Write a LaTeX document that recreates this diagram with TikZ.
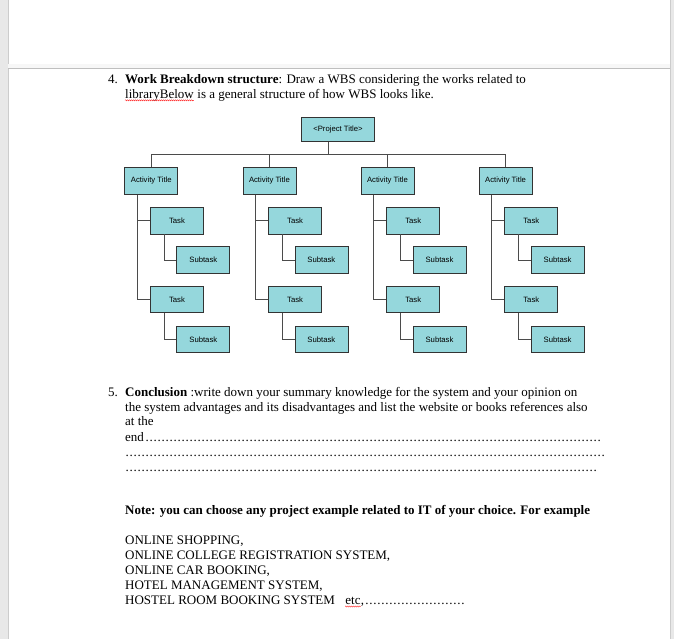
\documentclass[tikz,border=0pt]{standalone}
\usepackage{fontspec}
\setmainfont{Liberation Serif}
\newfontfamily\boxfont{Liberation Sans}
\usetikzlibrary{positioning,calc,decorations.pathmorphing}
\definecolor{wbsfill}{RGB}{149,215,220}
\definecolor{wbsline}{RGB}{75,75,75}
\definecolor{pagegray}{RGB}{232,232,232}
\tikzset{
  wbsbox/.style  = {draw=black!80, fill=wbsfill, line width=0.7pt,
                    minimum width=53pt, minimum height=26.5pt, inner sep=1pt,
                    font=\boxfont\fontsize{7.7}{9}\selectfont},
  projbox/.style = {wbsbox, minimum width=73pt, minimum height=24.5pt},
  link/.style    = {draw=wbsline, line width=0.7pt},
  txt/.style     = {anchor=base west, inner sep=0pt, font=\fontsize{13}{15}\selectfont},
  spell/.style   = {draw=red!85, line width=0.45pt, decorate,
                    decoration={snake, segment length=2pt, amplitude=0.55pt}}
}
\newcommand{\dotrun}[1]{\leaders\hbox to 4pt{\hss.\hss}\hskip #1\hbox{}}

\begin{document}
\begin{tikzpicture}[x=1pt, y=-1pt]
% ---- page ----
\useasboundingbox (0,0) rectangle (674,639);
\fill[white] (0,0) rectangle (674,639);
\fill[pagegray] (0,0) rectangle (8,639);
\fill[pagegray] (670,0) rectangle (674,639);
\draw[black!20] (8,0) -- (8,639);
\draw[black!20] (670,0) -- (670,639);
\fill[black!3] (8,64) rectangle (670,68);
\draw[black!25, line width=0.8pt] (8,68.3) -- (670,68.3);

% ---- question 4 ----
\node[txt] (q4num) at (108,83.3) {4.};
\node[txt] (q4a) at (125,83.3) {\textbf{Work Breakdown structure}: Draw a WBS considering the works related to};
\node[txt] (lib) at (125,98.3) {libraryBelow};
\node[txt] (q4b) at (lib.base east) {\ is a general structure of how WBS looks like.};
\draw[spell] ([yshift=-2pt]lib.base west) -- ([yshift=-2pt]lib.base east);

% ---- WBS tree ----
\node[projbox] (proj) at (338,129.5) {<Project Title>};
\coordinate (bus) at (0,154);
\foreach \c [count=\i] in {151.3,269.4,387.5,505.6} {
  \node[wbsbox] (act\i)   at (\c,181)         {Activity Title};
  \node[wbsbox] (taskA\i) at (\c+25.7,220.7)  {Task};
  \node[wbsbox] (subA\i)  at (\c+52,260)      {Subtask};
  \node[wbsbox] (taskB\i) at (\c+25.7,299.3)  {Task};
  \node[wbsbox] (subB\i)  at (\c+52,339.3)    {Subtask};
  \draw[link] (act\i.north) -- (act\i.north |- bus);
  \draw[link] ([xshift=-14pt]act\i.south) |- (taskA\i.west);
  \draw[link] ([xshift=-14pt]act\i.south) |- (taskB\i.west);
  \draw[link] ([xshift=-12.7pt]taskA\i.south) |- (subA\i.west);
  \draw[link] ([xshift=-12.7pt]taskB\i.south) |- (subB\i.west);
}
\draw[link] (act1.north |- bus) -- (act4.north |- bus);
\draw[link] ([xshift=-10pt]proj.south) -- ([xshift=-10pt]proj.south |- bus);

% ---- question 5 ----
\node[txt] (q5num) at (108,396) {5.};
\node[txt] (q5a) at (125,396) {\textbf{Conclusion} :write down your summary knowledge for the system and your opinion on};
\node[txt] (q5b) at (125,411) {the system advantages and its disadvantages and list the website or books references also};
\node[txt] (q5c) at (125,425.5) {at the};
\node[txt] (q5d) at (125,441) {end\dotrun{458pt}};
\node[txt] (q5e) at (125,456) {\dotrun{481pt}};
\node[txt] (q5f) at (125,471) {\dotrun{473pt}};

% ---- note ----
\node[txt] (note) at (125,514) {\textbf{Note: you can choose any project example related to IT of your choice. For example}};
\node[txt] (ex1) at (125,544) {ONLINE SHOPPING,};
\node[txt] (ex2) at (125,559) {ONLINE COLLEGE REGISTRATION SYSTEM,};
\node[txt] (ex3) at (125,574) {ONLINE CAR BOOKING,};
\node[txt] (ex4) at (125,589) {HOTEL MANAGEMENT SYSTEM,};
\node[txt] (ex5) at (125,604.5) {HOSTEL ROOM BOOKING SYSTEM};
\node[txt, xshift=10pt] (etc) at (ex5.base east) {etc};
\node[txt] (etcdots) at (etc.base east) {,\dotrun{104pt}};
\draw[spell] ([yshift=-2pt]etc.base west) -- ([yshift=-2pt]etc.base east);
\end{tikzpicture}
\end{document}
